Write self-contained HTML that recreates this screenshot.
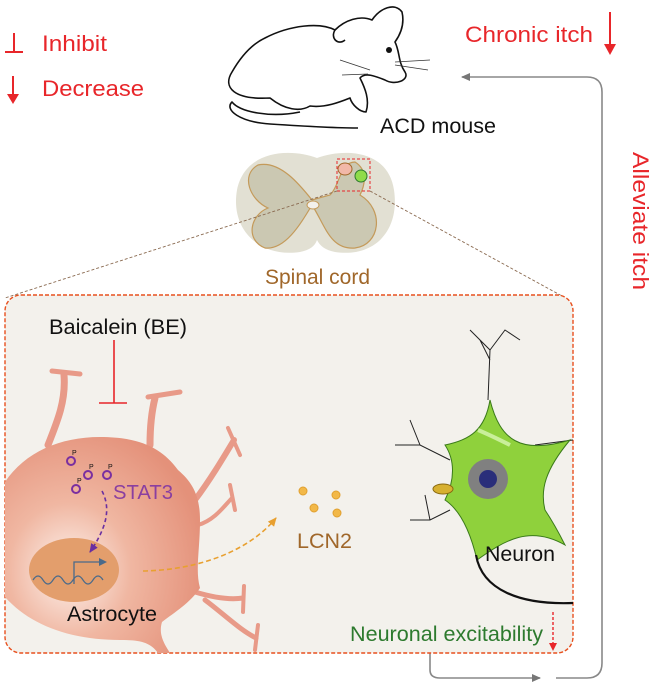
<!DOCTYPE html>
<html><head><meta charset="utf-8"><style>
body{margin:0;background:#fff;}
svg{display:block;font-family:"Liberation Sans",Arial,sans-serif;}
</style></head><body>
<svg width="655" height="685" viewBox="0 0 655 685" xmlns="http://www.w3.org/2000/svg">
<defs>
<radialGradient id="astro" cx="0.33" cy="0.62" r="0.7">
<stop offset="0" stop-color="#fdf3ee"/><stop offset="0.45" stop-color="#f0b7a2"/><stop offset="1" stop-color="#e4917a"/>
</radialGradient>
<marker id="ga" markerWidth="10" markerHeight="10" refX="8" refY="5" orient="auto" markerUnits="userSpaceOnUse"><path d="M0,1 L9,5 L0,9 z" fill="#777"/></marker>
<marker id="oa" markerWidth="10" markerHeight="10" refX="8" refY="5" orient="auto" markerUnits="userSpaceOnUse"><path d="M0,1 L9,5 L0,9 z" fill="#e8a030"/></marker>
<marker id="pa" markerWidth="10" markerHeight="10" refX="8" refY="5" orient="auto" markerUnits="userSpaceOnUse"><path d="M0,1 L9,5 L0,9 z" fill="#6a2fa0"/></marker>
</defs>

<!-- legend -->
<g stroke="#e8262a" stroke-width="2" fill="none">
<path d="M14,33 V52 M5,52 H23"/>
<path d="M13,76 V100"/>
<path d="M610,12 V50"/>
<path d="M371,508 V548"/>
</g>
<path d="M7,94 L13,104 L19,94z" fill="#e8262a"/>
<path d="M604,44 L610,55 L616,44z" fill="#e8262a"/>
<path d="M365,542 L371,553 L377,542z" fill="#e8262a"/>
<text x="42" y="51" font-size="22" fill="#e8262a" textLength="65" lengthAdjust="spacingAndGlyphs">Inhibit</text>
<text x="42" y="96" font-size="22" fill="#e8262a" textLength="102" lengthAdjust="spacingAndGlyphs">Decrease</text>
<text x="465" y="42" font-size="22" fill="#e8262a" textLength="128" lengthAdjust="spacingAndGlyphs">Chronic itch</text>
<text transform="translate(633,152) rotate(90)" font-size="22" fill="#e8262a" textLength="138" lengthAdjust="spacingAndGlyphs">Alleviate itch</text>

<!-- mouse -->
<g fill="#fff" stroke="#111" stroke-width="1.6" stroke-linejoin="round">
<path d="M270,98 C235,100 222,88 232,72 C240,58 250,45 265,38 C290,25 320,22 335,30 C345,20 360,15 372,20 C380,8 395,2 402,12 C405,25 400,35 395,42 C400,52 398,62 405,72 C410,80 395,86 385,80 C375,76 365,72 360,78 C365,88 370,100 366,112 C360,112 352,105 350,98 C340,102 325,108 310,106 C300,112 285,110 270,98z"/>
<path d="M300,112 C270,118 240,112 232,102 C224,110 240,122 270,124 C300,126 330,128 358,128" fill="none"/>
<path d="M335,30 C330,38 338,46 345,40" fill="none"/>
</g>
<circle cx="389" cy="50" r="3" fill="#111"/>
<g stroke="#333" stroke-width="0.8"><path d="M395,62 L430,60 M395,65 L428,70 M370,70 L340,60 M368,74 L342,75"/></g>
<text x="380" y="133" font-size="21" fill="#111" textLength="116" lengthAdjust="spacingAndGlyphs">ACD mouse</text>

<!-- spinal cord -->
<path d="M317,158 C290,148 245,150 237,190 C230,230 260,258 300,252 C310,250 315,246 317,240 C320,246 325,250 335,252 C375,258 400,230 394,190 C388,150 345,148 317,158z" fill="#e2e0d3"/>
<path d="M258,165 C240,175 250,200 268,208 C250,215 245,240 265,248 C285,250 300,225 312,205 C325,225 330,250 355,248 C380,245 385,210 360,195 C365,185 368,170 355,162 C340,162 340,185 330,195 L312,200 C300,185 280,160 258,165z" fill="#cbc8b2" stroke="#c49a5a" stroke-width="1.2"/>
<ellipse cx="313" cy="205" rx="6" ry="4" fill="#f3f1ec" stroke="#c49a5a"/>
<ellipse cx="345" cy="169" rx="7" ry="6" fill="#f2b8a8" stroke="#a0672a"/>
<circle cx="361" cy="176" r="6" fill="#8fdc4a" stroke="#2d7a2e"/>
<rect x="337" y="159" width="33" height="32" fill="none" stroke="#e8262a" stroke-dasharray="3,2"/>
<g stroke="#8a6a50" stroke-width="0.9" stroke-dasharray="3,2" fill="none">
<path d="M337,191 L5,298"/><path d="M370,191 L562,296"/>
</g>
<text x="265" y="284" font-size="21" fill="#a0672a" textLength="105" lengthAdjust="spacingAndGlyphs">Spinal cord</text>

<!-- right gray loop -->
<path d="M545,678 L587,678 Q602,678 602,663 V92 Q602,77 587,77 L462,77" fill="none" stroke="#888" stroke-width="1.6" marker-end="url(#ga)"/>
<path d="M430,653 V670 Q430,678 440,678 L540,678" fill="none" stroke="#888" stroke-width="1.6" marker-end="url(#ga)"/>
<rect x="542" y="670" width="14" height="14" fill="#fff"/>

<!-- main box -->
<rect x="5" y="295" width="568" height="358" rx="16" fill="#f3f1ec" stroke="#e8501e" stroke-width="1.4" stroke-dasharray="4,2"/>

<!-- astrocyte processes -->
<g fill="none" stroke="#e89a88" stroke-linecap="round" stroke-linejoin="round">
<path d="M48,445 C58,420 66,400 64,375" stroke-width="7"/>
<path d="M52,371 L80,374" stroke-width="5"/>
<path d="M150,445 C150,425 152,410 155,398" stroke-width="7"/>
<path d="M148,397 L180,392" stroke-width="5"/>
<path d="M195,500 C210,480 222,460 234,440" stroke-width="6"/>
<path d="M228,428 L240,455" stroke-width="4"/>
<path d="M198,525 C215,520 225,505 232,498" stroke-width="4"/>
<path d="M230,485 L235,510" stroke-width="4"/>
<path d="M195,592 C215,598 230,600 243,598" stroke-width="5"/>
<path d="M244,586 L243,612" stroke-width="4"/>
<path d="M205,600 C225,615 240,630 256,638" stroke-width="5"/>
<path d="M258,625 L255,650" stroke-width="4"/>
</g>
<!-- astrocyte body -->
<path d="M5,482 C25,452 60,437 100,437 C140,437 162,448 178,470 C192,482 200,495 200,520 C200,550 195,570 200,588 C190,603 175,612 162,622 C158,635 165,645 170,653 L158,653 C150,642 140,640 120,640 C70,640 30,625 5,597 Z" fill="url(#astro)"/>
<ellipse cx="74" cy="570" rx="45" ry="32" fill="#e39e6c"/>
<path d="M33,580 q5,-8 10,0 t10,0 t10,0 t10,0 t10,0 t10,0 t10,0" fill="none" stroke="#4a6a8a" stroke-width="1.2"/>
<path d="M74,584 V562 H100" fill="none" stroke="#4a6a8a" stroke-width="1.3"/>
<path d="M99,558 L107,562 L99,566z" fill="#4a6a8a"/>
<g fill="none" stroke="#7a2fa0" stroke-width="2">
<circle cx="71" cy="461" r="4"/><circle cx="88" cy="475" r="4"/><circle cx="107" cy="475" r="4"/><circle cx="76" cy="489" r="4"/>
</g>
<g font-size="7" fill="#111"><text x="72" y="455">P</text><text x="89" y="469">P</text><text x="108" y="469">P</text><text x="77" y="483">P</text></g>
<text x="113" y="499" font-size="20" fill="#8a3fa0" textLength="60" lengthAdjust="spacingAndGlyphs">STAT3</text>
<path d="M102,491 C112,510 105,530 90,552" fill="none" stroke="#6a2fa0" stroke-width="1.6" stroke-dasharray="4,3" marker-end="url(#pa)"/>
<text x="67" y="621" font-size="21" fill="#111" textLength="90" lengthAdjust="spacingAndGlyphs">Astrocyte</text>
<path d="M143,571 C200,570 250,550 276,518" fill="none" stroke="#e8a030" stroke-width="1.6" stroke-dasharray="5,3" marker-end="url(#oa)"/>

<!-- inhibit line -->
<path d="M114,340 V403 M99,403 H127" stroke="#e8262a" stroke-width="1.6" fill="none"/>
<text x="49" y="334" font-size="21" fill="#111" textLength="138" lengthAdjust="spacingAndGlyphs">Baicalein (BE)</text>

<!-- LCN2 -->
<g fill="#f2b848" stroke="#e0a030"><circle cx="303" cy="491" r="4"/><circle cx="336" cy="495" r="4"/><circle cx="314" cy="508" r="4"/><circle cx="337" cy="513" r="4"/></g>
<text x="297" y="548" font-size="21" fill="#a0672a" textLength="55" lengthAdjust="spacingAndGlyphs">LCN2</text>

<!-- neuron -->
<g stroke="#222" stroke-width="1" fill="none">
<path d="M488,400 L490,350 L470,330 M490,350 L505,330 L520,340 M490,360 L480,340"/>
<path d="M450,460 L420,445 L395,445 M420,445 L410,420"/>
<path d="M450,510 L430,520 L410,520 M430,520 L425,495"/>
<path d="M535,445 L573,440"/>
</g>
<path d="M490,400 C500,440 520,455 570,440 C545,470 540,490 545,510 C555,525 560,535 565,545 C530,525 505,540 477,560 C470,530 460,510 445,500 C455,480 455,460 445,445 C470,440 485,430 490,400z" fill="#8fd13c" stroke="#3a7a1a" stroke-width="1"/>
<path d="M478,430 C490,435 500,440 510,445" stroke="#c9ef9a" stroke-width="4" fill="none"/>
<circle cx="488" cy="479" r="20" fill="#808080"/>
<circle cx="488" cy="479" r="9" fill="#2a2e7a"/>
<ellipse cx="443" cy="489" rx="10" ry="5" fill="#d7b030" stroke="#8a6a10"/>
<path d="M476,555 C482,590 520,605 573,603" fill="none" stroke="#111" stroke-width="2.2"/>
<text x="485" y="561" font-size="21" fill="#111" textLength="70" lengthAdjust="spacingAndGlyphs">Neuron</text>
<text x="350" y="641" font-size="21" fill="#2d7a2e" textLength="193" lengthAdjust="spacingAndGlyphs">Neuronal excitability</text>
<path d="M553,612 V645" stroke="#e8262a" stroke-width="1.4" stroke-dasharray="3,2"/>
<path d="M549,643 L553,651 L557,643z" fill="#e8262a"/>
</svg>
</body></html>
